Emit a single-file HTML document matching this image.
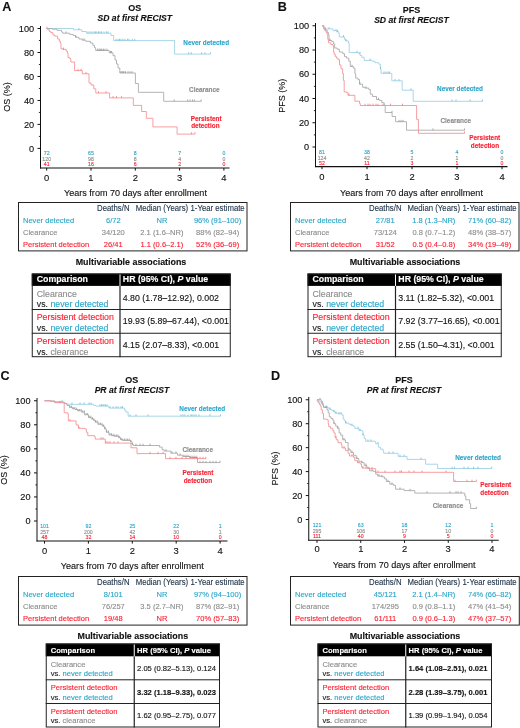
<!DOCTYPE html>
<html><head><meta charset="utf-8"><style>
html,body{margin:0;padding:0;background:#fff;}
svg{display:block;font-family:"Liberation Sans", sans-serif;will-change:transform;}
</style></head><body>
<svg width="520" height="728" viewBox="0 0 520 728">
<g id="pA">
<text x="2.30" y="10.90" font-size="12.6" fill="#111" font-weight="bold" stroke="#111" stroke-width="0.12" transform="translate(0,10.90) scale(1,1.06) translate(0,-10.90)">A</text>
<text x="134.80" y="10.60" font-size="9" fill="#111" text-anchor="middle" font-weight="bold" stroke="#111" stroke-width="0.12" transform="translate(0,10.60) scale(1,1.06) translate(0,-10.60)">OS</text>
<text x="134.80" y="20.80" font-size="8.6" fill="#111" text-anchor="middle" font-weight="bold" font-style="italic" stroke="#111" stroke-width="0.12" transform="translate(0,20.80) scale(1,1.06) translate(0,-20.80)">SD at first RECIST</text>
<line x1="40.50" y1="26.00" x2="40.50" y2="168.50" stroke="#111" stroke-width="1"/>
<line x1="37.50" y1="148.40" x2="40.50" y2="148.40" stroke="#111" stroke-width="1"/>
<text x="34.20" y="151.60" font-size="9.2" fill="#111" text-anchor="end" stroke="#111" stroke-width="0.12" transform="translate(0,151.60) scale(1,1.06) translate(0,-151.60)">0</text>
<line x1="38.90" y1="136.41" x2="40.50" y2="136.41" stroke="#111" stroke-width="0.9"/>
<line x1="37.50" y1="124.42" x2="40.50" y2="124.42" stroke="#111" stroke-width="1"/>
<text x="34.20" y="127.62" font-size="9.2" fill="#111" text-anchor="end" stroke="#111" stroke-width="0.12" transform="translate(0,127.62) scale(1,1.06) translate(0,-127.62)">20</text>
<line x1="38.90" y1="112.43" x2="40.50" y2="112.43" stroke="#111" stroke-width="0.9"/>
<line x1="37.50" y1="100.44" x2="40.50" y2="100.44" stroke="#111" stroke-width="1"/>
<text x="34.20" y="103.64" font-size="9.2" fill="#111" text-anchor="end" stroke="#111" stroke-width="0.12" transform="translate(0,103.64) scale(1,1.06) translate(0,-103.64)">40</text>
<line x1="38.90" y1="88.45" x2="40.50" y2="88.45" stroke="#111" stroke-width="0.9"/>
<line x1="37.50" y1="76.46" x2="40.50" y2="76.46" stroke="#111" stroke-width="1"/>
<text x="34.20" y="79.66" font-size="9.2" fill="#111" text-anchor="end" stroke="#111" stroke-width="0.12" transform="translate(0,79.66) scale(1,1.06) translate(0,-79.66)">60</text>
<line x1="38.90" y1="64.47" x2="40.50" y2="64.47" stroke="#111" stroke-width="0.9"/>
<line x1="37.50" y1="52.48" x2="40.50" y2="52.48" stroke="#111" stroke-width="1"/>
<text x="34.20" y="55.68" font-size="9.2" fill="#111" text-anchor="end" stroke="#111" stroke-width="0.12" transform="translate(0,55.68) scale(1,1.06) translate(0,-55.68)">80</text>
<line x1="38.90" y1="40.49" x2="40.50" y2="40.49" stroke="#111" stroke-width="0.9"/>
<line x1="37.50" y1="28.50" x2="40.50" y2="28.50" stroke="#111" stroke-width="1"/>
<text x="34.20" y="31.70" font-size="9.2" fill="#111" text-anchor="end" stroke="#111" stroke-width="0.12" transform="translate(0,31.70) scale(1,1.06) translate(0,-31.70)">100</text>
<text x="0.00" y="0.00" font-size="9" fill="#111" text-anchor="middle" stroke="#111" stroke-width="0.12" transform="translate(9.90,97.00) rotate(-90) scale(1,1.06)">OS (%)</text>
<line x1="40.00" y1="168.00" x2="229.50" y2="168.00" stroke="#111" stroke-width="1.2"/>
<line x1="46.70" y1="168.00" x2="46.70" y2="170.60" stroke="#111" stroke-width="1"/>
<text x="46.70" y="180.60" font-size="9.4" fill="#111" text-anchor="middle" stroke="#111" stroke-width="0.12" transform="translate(0,180.60) scale(1,1.06) translate(0,-180.60)">0</text>
<text x="46.70" y="154.85" font-size="5.2" fill="#2aa5c9" text-anchor="middle" stroke="#2aa5c9" stroke-width="0.12" transform="translate(0,154.85) scale(1,1.06) translate(0,-154.85)">72</text>
<text x="46.70" y="160.65" font-size="5.2" fill="#8c8c8c" text-anchor="middle" stroke="#8c8c8c" stroke-width="0.12" transform="translate(0,160.65) scale(1,1.06) translate(0,-160.65)">120</text>
<text x="46.70" y="166.25" font-size="5.2" fill="#fa2030" text-anchor="middle" stroke="#fa2030" stroke-width="0.12" transform="translate(0,166.25) scale(1,1.06) translate(0,-166.25)">41</text>
<line x1="91.00" y1="168.00" x2="91.00" y2="170.60" stroke="#111" stroke-width="1"/>
<text x="91.00" y="180.60" font-size="9.4" fill="#111" text-anchor="middle" stroke="#111" stroke-width="0.12" transform="translate(0,180.60) scale(1,1.06) translate(0,-180.60)">1</text>
<text x="91.00" y="154.85" font-size="5.2" fill="#2aa5c9" text-anchor="middle" stroke="#2aa5c9" stroke-width="0.12" transform="translate(0,154.85) scale(1,1.06) translate(0,-154.85)">65</text>
<text x="91.00" y="160.65" font-size="5.2" fill="#8c8c8c" text-anchor="middle" stroke="#8c8c8c" stroke-width="0.12" transform="translate(0,160.65) scale(1,1.06) translate(0,-160.65)">98</text>
<text x="91.00" y="166.25" font-size="5.2" fill="#fa2030" text-anchor="middle" stroke="#fa2030" stroke-width="0.12" transform="translate(0,166.25) scale(1,1.06) translate(0,-166.25)">16</text>
<line x1="135.30" y1="168.00" x2="135.30" y2="170.60" stroke="#111" stroke-width="1"/>
<text x="135.30" y="180.60" font-size="9.4" fill="#111" text-anchor="middle" stroke="#111" stroke-width="0.12" transform="translate(0,180.60) scale(1,1.06) translate(0,-180.60)">2</text>
<text x="135.30" y="154.85" font-size="5.2" fill="#2aa5c9" text-anchor="middle" stroke="#2aa5c9" stroke-width="0.12" transform="translate(0,154.85) scale(1,1.06) translate(0,-154.85)">8</text>
<text x="135.30" y="160.65" font-size="5.2" fill="#8c8c8c" text-anchor="middle" stroke="#8c8c8c" stroke-width="0.12" transform="translate(0,160.65) scale(1,1.06) translate(0,-160.65)">8</text>
<text x="135.30" y="166.25" font-size="5.2" fill="#fa2030" text-anchor="middle" stroke="#fa2030" stroke-width="0.12" transform="translate(0,166.25) scale(1,1.06) translate(0,-166.25)">6</text>
<line x1="179.60" y1="168.00" x2="179.60" y2="170.60" stroke="#111" stroke-width="1"/>
<text x="179.60" y="180.60" font-size="9.4" fill="#111" text-anchor="middle" stroke="#111" stroke-width="0.12" transform="translate(0,180.60) scale(1,1.06) translate(0,-180.60)">3</text>
<text x="179.60" y="154.85" font-size="5.2" fill="#2aa5c9" text-anchor="middle" stroke="#2aa5c9" stroke-width="0.12" transform="translate(0,154.85) scale(1,1.06) translate(0,-154.85)">7</text>
<text x="179.60" y="160.65" font-size="5.2" fill="#8c8c8c" text-anchor="middle" stroke="#8c8c8c" stroke-width="0.12" transform="translate(0,160.65) scale(1,1.06) translate(0,-160.65)">4</text>
<text x="179.60" y="166.25" font-size="5.2" fill="#fa2030" text-anchor="middle" stroke="#fa2030" stroke-width="0.12" transform="translate(0,166.25) scale(1,1.06) translate(0,-166.25)">2</text>
<line x1="223.90" y1="168.00" x2="223.90" y2="170.60" stroke="#111" stroke-width="1"/>
<text x="223.90" y="180.60" font-size="9.4" fill="#111" text-anchor="middle" stroke="#111" stroke-width="0.12" transform="translate(0,180.60) scale(1,1.06) translate(0,-180.60)">4</text>
<text x="223.90" y="154.85" font-size="5.2" fill="#2aa5c9" text-anchor="middle" stroke="#2aa5c9" stroke-width="0.12" transform="translate(0,154.85) scale(1,1.06) translate(0,-154.85)">0</text>
<text x="223.90" y="160.65" font-size="5.2" fill="#8c8c8c" text-anchor="middle" stroke="#8c8c8c" stroke-width="0.12" transform="translate(0,160.65) scale(1,1.06) translate(0,-160.65)">0</text>
<text x="223.90" y="166.25" font-size="5.2" fill="#fa2030" text-anchor="middle" stroke="#fa2030" stroke-width="0.12" transform="translate(0,166.25) scale(1,1.06) translate(0,-166.25)">0</text>
<text x="135.50" y="195.80" font-size="9.05" fill="#111" text-anchor="middle" stroke="#111" stroke-width="0.12" transform="translate(0,195.80) scale(1,1.06) translate(0,-195.80)">Years from 70 days after enrollment</text>
</g>
<g id="pB">
<text x="277.80" y="11.00" font-size="12.6" fill="#111" font-weight="bold" stroke="#111" stroke-width="0.12" transform="translate(0,11.00) scale(1,1.06) translate(0,-11.00)">B</text>
<text x="411.40" y="13.10" font-size="9" fill="#111" text-anchor="middle" font-weight="bold" stroke="#111" stroke-width="0.12" transform="translate(0,13.10) scale(1,1.06) translate(0,-13.10)">PFS</text>
<text x="411.40" y="23.40" font-size="8.6" fill="#111" text-anchor="middle" font-weight="bold" font-style="italic" stroke="#111" stroke-width="0.12" transform="translate(0,23.40) scale(1,1.06) translate(0,-23.40)">SD at first RECIST</text>
<line x1="315.50" y1="23.00" x2="315.50" y2="167.10" stroke="#111" stroke-width="1"/>
<line x1="312.50" y1="147.00" x2="315.50" y2="147.00" stroke="#111" stroke-width="1"/>
<text x="309.20" y="150.20" font-size="9.2" fill="#111" text-anchor="end" stroke="#111" stroke-width="0.12" transform="translate(0,150.20) scale(1,1.06) translate(0,-150.20)">0</text>
<line x1="313.90" y1="134.88" x2="315.50" y2="134.88" stroke="#111" stroke-width="0.9"/>
<line x1="312.50" y1="122.75" x2="315.50" y2="122.75" stroke="#111" stroke-width="1"/>
<text x="309.20" y="125.95" font-size="9.2" fill="#111" text-anchor="end" stroke="#111" stroke-width="0.12" transform="translate(0,125.95) scale(1,1.06) translate(0,-125.95)">20</text>
<line x1="313.90" y1="110.62" x2="315.50" y2="110.62" stroke="#111" stroke-width="0.9"/>
<line x1="312.50" y1="98.50" x2="315.50" y2="98.50" stroke="#111" stroke-width="1"/>
<text x="309.20" y="101.70" font-size="9.2" fill="#111" text-anchor="end" stroke="#111" stroke-width="0.12" transform="translate(0,101.70) scale(1,1.06) translate(0,-101.70)">40</text>
<line x1="313.90" y1="86.38" x2="315.50" y2="86.38" stroke="#111" stroke-width="0.9"/>
<line x1="312.50" y1="74.25" x2="315.50" y2="74.25" stroke="#111" stroke-width="1"/>
<text x="309.20" y="77.45" font-size="9.2" fill="#111" text-anchor="end" stroke="#111" stroke-width="0.12" transform="translate(0,77.45) scale(1,1.06) translate(0,-77.45)">60</text>
<line x1="313.90" y1="62.12" x2="315.50" y2="62.12" stroke="#111" stroke-width="0.9"/>
<line x1="312.50" y1="50.00" x2="315.50" y2="50.00" stroke="#111" stroke-width="1"/>
<text x="309.20" y="53.20" font-size="9.2" fill="#111" text-anchor="end" stroke="#111" stroke-width="0.12" transform="translate(0,53.20) scale(1,1.06) translate(0,-53.20)">80</text>
<line x1="313.90" y1="37.88" x2="315.50" y2="37.88" stroke="#111" stroke-width="0.9"/>
<line x1="312.50" y1="25.75" x2="315.50" y2="25.75" stroke="#111" stroke-width="1"/>
<text x="309.20" y="28.95" font-size="9.2" fill="#111" text-anchor="end" stroke="#111" stroke-width="0.12" transform="translate(0,28.95) scale(1,1.06) translate(0,-28.95)">100</text>
<text x="0.00" y="0.00" font-size="9" fill="#111" text-anchor="middle" stroke="#111" stroke-width="0.12" transform="translate(284.80,95.70) rotate(-90) scale(1,1.06)">PFS (%)</text>
<line x1="315.00" y1="166.60" x2="507.50" y2="166.60" stroke="#111" stroke-width="1.2"/>
<line x1="322.00" y1="166.60" x2="322.00" y2="169.20" stroke="#111" stroke-width="1"/>
<text x="322.00" y="180.50" font-size="9.4" fill="#111" text-anchor="middle" stroke="#111" stroke-width="0.12" transform="translate(0,180.50) scale(1,1.06) translate(0,-180.50)">0</text>
<text x="322.00" y="153.85" font-size="5.2" fill="#2aa5c9" text-anchor="middle" stroke="#2aa5c9" stroke-width="0.12" transform="translate(0,153.85) scale(1,1.06) translate(0,-153.85)">81</text>
<text x="322.00" y="159.75" font-size="5.2" fill="#8c8c8c" text-anchor="middle" stroke="#8c8c8c" stroke-width="0.12" transform="translate(0,159.75) scale(1,1.06) translate(0,-159.75)">124</text>
<text x="322.00" y="165.25" font-size="5.2" fill="#fa2030" text-anchor="middle" stroke="#fa2030" stroke-width="0.12" transform="translate(0,165.25) scale(1,1.06) translate(0,-165.25)">52</text>
<line x1="367.00" y1="166.60" x2="367.00" y2="169.20" stroke="#111" stroke-width="1"/>
<text x="367.00" y="180.50" font-size="9.4" fill="#111" text-anchor="middle" stroke="#111" stroke-width="0.12" transform="translate(0,180.50) scale(1,1.06) translate(0,-180.50)">1</text>
<text x="367.00" y="153.85" font-size="5.2" fill="#2aa5c9" text-anchor="middle" stroke="#2aa5c9" stroke-width="0.12" transform="translate(0,153.85) scale(1,1.06) translate(0,-153.85)">38</text>
<text x="367.00" y="159.75" font-size="5.2" fill="#8c8c8c" text-anchor="middle" stroke="#8c8c8c" stroke-width="0.12" transform="translate(0,159.75) scale(1,1.06) translate(0,-159.75)">42</text>
<text x="367.00" y="165.25" font-size="5.2" fill="#fa2030" text-anchor="middle" stroke="#fa2030" stroke-width="0.12" transform="translate(0,165.25) scale(1,1.06) translate(0,-165.25)">11</text>
<line x1="412.00" y1="166.60" x2="412.00" y2="169.20" stroke="#111" stroke-width="1"/>
<text x="412.00" y="180.50" font-size="9.4" fill="#111" text-anchor="middle" stroke="#111" stroke-width="0.12" transform="translate(0,180.50) scale(1,1.06) translate(0,-180.50)">2</text>
<text x="412.00" y="153.85" font-size="5.2" fill="#2aa5c9" text-anchor="middle" stroke="#2aa5c9" stroke-width="0.12" transform="translate(0,153.85) scale(1,1.06) translate(0,-153.85)">5</text>
<text x="412.00" y="159.75" font-size="5.2" fill="#8c8c8c" text-anchor="middle" stroke="#8c8c8c" stroke-width="0.12" transform="translate(0,159.75) scale(1,1.06) translate(0,-159.75)">2</text>
<text x="412.00" y="165.25" font-size="5.2" fill="#fa2030" text-anchor="middle" stroke="#fa2030" stroke-width="0.12" transform="translate(0,165.25) scale(1,1.06) translate(0,-165.25)">3</text>
<line x1="457.00" y1="166.60" x2="457.00" y2="169.20" stroke="#111" stroke-width="1"/>
<text x="457.00" y="180.50" font-size="9.4" fill="#111" text-anchor="middle" stroke="#111" stroke-width="0.12" transform="translate(0,180.50) scale(1,1.06) translate(0,-180.50)">3</text>
<text x="457.00" y="153.85" font-size="5.2" fill="#2aa5c9" text-anchor="middle" stroke="#2aa5c9" stroke-width="0.12" transform="translate(0,153.85) scale(1,1.06) translate(0,-153.85)">4</text>
<text x="457.00" y="159.75" font-size="5.2" fill="#8c8c8c" text-anchor="middle" stroke="#8c8c8c" stroke-width="0.12" transform="translate(0,159.75) scale(1,1.06) translate(0,-159.75)">1</text>
<text x="457.00" y="165.25" font-size="5.2" fill="#fa2030" text-anchor="middle" stroke="#fa2030" stroke-width="0.12" transform="translate(0,165.25) scale(1,1.06) translate(0,-165.25)">1</text>
<line x1="502.00" y1="166.60" x2="502.00" y2="169.20" stroke="#111" stroke-width="1"/>
<text x="502.00" y="180.50" font-size="9.4" fill="#111" text-anchor="middle" stroke="#111" stroke-width="0.12" transform="translate(0,180.50) scale(1,1.06) translate(0,-180.50)">4</text>
<text x="502.00" y="153.85" font-size="5.2" fill="#2aa5c9" text-anchor="middle" stroke="#2aa5c9" stroke-width="0.12" transform="translate(0,153.85) scale(1,1.06) translate(0,-153.85)">0</text>
<text x="502.00" y="159.75" font-size="5.2" fill="#8c8c8c" text-anchor="middle" stroke="#8c8c8c" stroke-width="0.12" transform="translate(0,159.75) scale(1,1.06) translate(0,-159.75)">0</text>
<text x="502.00" y="165.25" font-size="5.2" fill="#fa2030" text-anchor="middle" stroke="#fa2030" stroke-width="0.12" transform="translate(0,165.25) scale(1,1.06) translate(0,-165.25)">0</text>
<text x="411.50" y="195.80" font-size="9.05" fill="#111" text-anchor="middle" stroke="#111" stroke-width="0.12" transform="translate(0,195.80) scale(1,1.06) translate(0,-195.80)">Years from 70 days after enrollment</text>
</g>
<g id="pC">
<text x="0.40" y="380.50" font-size="12.6" fill="#111" font-weight="bold" stroke="#111" stroke-width="0.12" transform="translate(0,380.50) scale(1,1.06) translate(0,-380.50)">C</text>
<text x="131.70" y="382.75" font-size="9" fill="#111" text-anchor="middle" font-weight="bold" stroke="#111" stroke-width="0.12" transform="translate(0,382.75) scale(1,1.06) translate(0,-382.75)">OS</text>
<text x="131.90" y="393.40" font-size="8.6" fill="#111" text-anchor="middle" font-weight="bold" font-style="italic" stroke="#111" stroke-width="0.12" transform="translate(0,393.40) scale(1,1.06) translate(0,-393.40)">PR at first RECIST</text>
<line x1="37.00" y1="398.00" x2="37.00" y2="541.50" stroke="#111" stroke-width="1"/>
<line x1="34.00" y1="521.00" x2="37.00" y2="521.00" stroke="#111" stroke-width="1"/>
<text x="30.60" y="524.20" font-size="9.2" fill="#111" text-anchor="end" stroke="#111" stroke-width="0.12" transform="translate(0,524.20) scale(1,1.06) translate(0,-524.20)">0</text>
<line x1="35.40" y1="508.98" x2="37.00" y2="508.98" stroke="#111" stroke-width="0.9"/>
<line x1="34.00" y1="496.95" x2="37.00" y2="496.95" stroke="#111" stroke-width="1"/>
<text x="30.60" y="500.15" font-size="9.2" fill="#111" text-anchor="end" stroke="#111" stroke-width="0.12" transform="translate(0,500.15) scale(1,1.06) translate(0,-500.15)">20</text>
<line x1="35.40" y1="484.93" x2="37.00" y2="484.93" stroke="#111" stroke-width="0.9"/>
<line x1="34.00" y1="472.90" x2="37.00" y2="472.90" stroke="#111" stroke-width="1"/>
<text x="30.60" y="476.10" font-size="9.2" fill="#111" text-anchor="end" stroke="#111" stroke-width="0.12" transform="translate(0,476.10) scale(1,1.06) translate(0,-476.10)">40</text>
<line x1="35.40" y1="460.88" x2="37.00" y2="460.88" stroke="#111" stroke-width="0.9"/>
<line x1="34.00" y1="448.85" x2="37.00" y2="448.85" stroke="#111" stroke-width="1"/>
<text x="30.60" y="452.05" font-size="9.2" fill="#111" text-anchor="end" stroke="#111" stroke-width="0.12" transform="translate(0,452.05) scale(1,1.06) translate(0,-452.05)">60</text>
<line x1="35.40" y1="436.82" x2="37.00" y2="436.82" stroke="#111" stroke-width="0.9"/>
<line x1="34.00" y1="424.80" x2="37.00" y2="424.80" stroke="#111" stroke-width="1"/>
<text x="30.60" y="428.00" font-size="9.2" fill="#111" text-anchor="end" stroke="#111" stroke-width="0.12" transform="translate(0,428.00) scale(1,1.06) translate(0,-428.00)">80</text>
<line x1="35.40" y1="412.77" x2="37.00" y2="412.77" stroke="#111" stroke-width="0.9"/>
<line x1="34.00" y1="400.75" x2="37.00" y2="400.75" stroke="#111" stroke-width="1"/>
<text x="30.60" y="403.95" font-size="9.2" fill="#111" text-anchor="end" stroke="#111" stroke-width="0.12" transform="translate(0,403.95) scale(1,1.06) translate(0,-403.95)">100</text>
<text x="0.00" y="0.00" font-size="9" fill="#111" text-anchor="middle" stroke="#111" stroke-width="0.12" transform="translate(7.40,470.00) rotate(-90) scale(1,1.06)">OS (%)</text>
<line x1="36.50" y1="541.00" x2="227.50" y2="541.00" stroke="#111" stroke-width="1.2"/>
<line x1="44.50" y1="541.00" x2="44.50" y2="543.60" stroke="#111" stroke-width="1"/>
<text x="44.50" y="553.60" font-size="9.4" fill="#111" text-anchor="middle" stroke="#111" stroke-width="0.12" transform="translate(0,553.60) scale(1,1.06) translate(0,-553.60)">0</text>
<text x="44.50" y="528.35" font-size="5.2" fill="#2aa5c9" text-anchor="middle" stroke="#2aa5c9" stroke-width="0.12" transform="translate(0,528.35) scale(1,1.06) translate(0,-528.35)">101</text>
<text x="44.50" y="533.60" font-size="5.2" fill="#8c8c8c" text-anchor="middle" stroke="#8c8c8c" stroke-width="0.12" transform="translate(0,533.60) scale(1,1.06) translate(0,-533.60)">257</text>
<text x="44.50" y="538.85" font-size="5.2" fill="#fa2030" text-anchor="middle" stroke="#fa2030" stroke-width="0.12" transform="translate(0,538.85) scale(1,1.06) translate(0,-538.85)">48</text>
<line x1="88.40" y1="541.00" x2="88.40" y2="543.60" stroke="#111" stroke-width="1"/>
<text x="88.40" y="553.60" font-size="9.4" fill="#111" text-anchor="middle" stroke="#111" stroke-width="0.12" transform="translate(0,553.60) scale(1,1.06) translate(0,-553.60)">1</text>
<text x="88.40" y="528.35" font-size="5.2" fill="#2aa5c9" text-anchor="middle" stroke="#2aa5c9" stroke-width="0.12" transform="translate(0,528.35) scale(1,1.06) translate(0,-528.35)">92</text>
<text x="88.40" y="533.60" font-size="5.2" fill="#8c8c8c" text-anchor="middle" stroke="#8c8c8c" stroke-width="0.12" transform="translate(0,533.60) scale(1,1.06) translate(0,-533.60)">200</text>
<text x="88.40" y="538.85" font-size="5.2" fill="#fa2030" text-anchor="middle" stroke="#fa2030" stroke-width="0.12" transform="translate(0,538.85) scale(1,1.06) translate(0,-538.85)">32</text>
<line x1="132.30" y1="541.00" x2="132.30" y2="543.60" stroke="#111" stroke-width="1"/>
<text x="132.30" y="553.60" font-size="9.4" fill="#111" text-anchor="middle" stroke="#111" stroke-width="0.12" transform="translate(0,553.60) scale(1,1.06) translate(0,-553.60)">2</text>
<text x="132.30" y="528.35" font-size="5.2" fill="#2aa5c9" text-anchor="middle" stroke="#2aa5c9" stroke-width="0.12" transform="translate(0,528.35) scale(1,1.06) translate(0,-528.35)">25</text>
<text x="132.30" y="533.60" font-size="5.2" fill="#8c8c8c" text-anchor="middle" stroke="#8c8c8c" stroke-width="0.12" transform="translate(0,533.60) scale(1,1.06) translate(0,-533.60)">42</text>
<text x="132.30" y="538.85" font-size="5.2" fill="#fa2030" text-anchor="middle" stroke="#fa2030" stroke-width="0.12" transform="translate(0,538.85) scale(1,1.06) translate(0,-538.85)">14</text>
<line x1="176.20" y1="541.00" x2="176.20" y2="543.60" stroke="#111" stroke-width="1"/>
<text x="176.20" y="553.60" font-size="9.4" fill="#111" text-anchor="middle" stroke="#111" stroke-width="0.12" transform="translate(0,553.60) scale(1,1.06) translate(0,-553.60)">3</text>
<text x="176.20" y="528.35" font-size="5.2" fill="#2aa5c9" text-anchor="middle" stroke="#2aa5c9" stroke-width="0.12" transform="translate(0,528.35) scale(1,1.06) translate(0,-528.35)">22</text>
<text x="176.20" y="533.60" font-size="5.2" fill="#8c8c8c" text-anchor="middle" stroke="#8c8c8c" stroke-width="0.12" transform="translate(0,533.60) scale(1,1.06) translate(0,-533.60)">30</text>
<text x="176.20" y="538.85" font-size="5.2" fill="#fa2030" text-anchor="middle" stroke="#fa2030" stroke-width="0.12" transform="translate(0,538.85) scale(1,1.06) translate(0,-538.85)">10</text>
<line x1="220.10" y1="541.00" x2="220.10" y2="543.60" stroke="#111" stroke-width="1"/>
<text x="220.10" y="553.60" font-size="9.4" fill="#111" text-anchor="middle" stroke="#111" stroke-width="0.12" transform="translate(0,553.60) scale(1,1.06) translate(0,-553.60)">4</text>
<text x="220.10" y="528.35" font-size="5.2" fill="#2aa5c9" text-anchor="middle" stroke="#2aa5c9" stroke-width="0.12" transform="translate(0,528.35) scale(1,1.06) translate(0,-528.35)">1</text>
<text x="220.10" y="533.60" font-size="5.2" fill="#8c8c8c" text-anchor="middle" stroke="#8c8c8c" stroke-width="0.12" transform="translate(0,533.60) scale(1,1.06) translate(0,-533.60)">1</text>
<text x="220.10" y="538.85" font-size="5.2" fill="#fa2030" text-anchor="middle" stroke="#fa2030" stroke-width="0.12" transform="translate(0,538.85) scale(1,1.06) translate(0,-538.85)">0</text>
<text x="132.30" y="568.70" font-size="9.05" fill="#111" text-anchor="middle" stroke="#111" stroke-width="0.12" transform="translate(0,568.70) scale(1,1.06) translate(0,-568.70)">Years from 70 days after enrollment</text>
</g>
<g id="pD">
<text x="270.90" y="380.40" font-size="12.6" fill="#111" font-weight="bold" stroke="#111" stroke-width="0.12" transform="translate(0,380.40) scale(1,1.06) translate(0,-380.40)">D</text>
<text x="404.00" y="383.00" font-size="9" fill="#111" text-anchor="middle" font-weight="bold" stroke="#111" stroke-width="0.12" transform="translate(0,383.00) scale(1,1.06) translate(0,-383.00)">PFS</text>
<text x="404.00" y="393.40" font-size="8.6" fill="#111" text-anchor="middle" font-weight="bold" font-style="italic" stroke="#111" stroke-width="0.12" transform="translate(0,393.40) scale(1,1.06) translate(0,-393.40)">PR at first RECIST</text>
<line x1="308.75" y1="397.00" x2="308.75" y2="540.75" stroke="#111" stroke-width="1"/>
<line x1="305.75" y1="519.50" x2="308.75" y2="519.50" stroke="#111" stroke-width="1"/>
<text x="302.50" y="522.70" font-size="9.2" fill="#111" text-anchor="end" stroke="#111" stroke-width="0.12" transform="translate(0,522.70) scale(1,1.06) translate(0,-522.70)">0</text>
<line x1="307.15" y1="507.52" x2="308.75" y2="507.52" stroke="#111" stroke-width="0.9"/>
<line x1="305.75" y1="495.55" x2="308.75" y2="495.55" stroke="#111" stroke-width="1"/>
<text x="302.50" y="498.75" font-size="9.2" fill="#111" text-anchor="end" stroke="#111" stroke-width="0.12" transform="translate(0,498.75) scale(1,1.06) translate(0,-498.75)">20</text>
<line x1="307.15" y1="483.57" x2="308.75" y2="483.57" stroke="#111" stroke-width="0.9"/>
<line x1="305.75" y1="471.60" x2="308.75" y2="471.60" stroke="#111" stroke-width="1"/>
<text x="302.50" y="474.80" font-size="9.2" fill="#111" text-anchor="end" stroke="#111" stroke-width="0.12" transform="translate(0,474.80) scale(1,1.06) translate(0,-474.80)">40</text>
<line x1="307.15" y1="459.62" x2="308.75" y2="459.62" stroke="#111" stroke-width="0.9"/>
<line x1="305.75" y1="447.65" x2="308.75" y2="447.65" stroke="#111" stroke-width="1"/>
<text x="302.50" y="450.85" font-size="9.2" fill="#111" text-anchor="end" stroke="#111" stroke-width="0.12" transform="translate(0,450.85) scale(1,1.06) translate(0,-450.85)">60</text>
<line x1="307.15" y1="435.68" x2="308.75" y2="435.68" stroke="#111" stroke-width="0.9"/>
<line x1="305.75" y1="423.70" x2="308.75" y2="423.70" stroke="#111" stroke-width="1"/>
<text x="302.50" y="426.90" font-size="9.2" fill="#111" text-anchor="end" stroke="#111" stroke-width="0.12" transform="translate(0,426.90) scale(1,1.06) translate(0,-426.90)">80</text>
<line x1="307.15" y1="411.73" x2="308.75" y2="411.73" stroke="#111" stroke-width="0.9"/>
<line x1="305.75" y1="399.75" x2="308.75" y2="399.75" stroke="#111" stroke-width="1"/>
<text x="302.50" y="402.95" font-size="9.2" fill="#111" text-anchor="end" stroke="#111" stroke-width="0.12" transform="translate(0,402.95) scale(1,1.06) translate(0,-402.95)">100</text>
<text x="0.00" y="0.00" font-size="9" fill="#111" text-anchor="middle" stroke="#111" stroke-width="0.12" transform="translate(277.60,468.60) rotate(-90) scale(1,1.06)">PFS (%)</text>
<line x1="308.25" y1="540.25" x2="498.75" y2="540.25" stroke="#111" stroke-width="1.2"/>
<line x1="317.00" y1="540.25" x2="317.00" y2="542.85" stroke="#111" stroke-width="1"/>
<text x="317.00" y="552.50" font-size="9.4" fill="#111" text-anchor="middle" stroke="#111" stroke-width="0.12" transform="translate(0,552.50) scale(1,1.06) translate(0,-552.50)">0</text>
<text x="317.00" y="527.10" font-size="5.2" fill="#2aa5c9" text-anchor="middle" stroke="#2aa5c9" stroke-width="0.12" transform="translate(0,527.10) scale(1,1.06) translate(0,-527.10)">121</text>
<text x="317.00" y="532.60" font-size="5.2" fill="#8c8c8c" text-anchor="middle" stroke="#8c8c8c" stroke-width="0.12" transform="translate(0,532.60) scale(1,1.06) translate(0,-532.60)">295</text>
<text x="317.00" y="538.10" font-size="5.2" fill="#fa2030" text-anchor="middle" stroke="#fa2030" stroke-width="0.12" transform="translate(0,538.10) scale(1,1.06) translate(0,-538.10)">111</text>
<line x1="360.75" y1="540.25" x2="360.75" y2="542.85" stroke="#111" stroke-width="1"/>
<text x="360.75" y="552.50" font-size="9.4" fill="#111" text-anchor="middle" stroke="#111" stroke-width="0.12" transform="translate(0,552.50) scale(1,1.06) translate(0,-552.50)">1</text>
<text x="360.75" y="527.10" font-size="5.2" fill="#2aa5c9" text-anchor="middle" stroke="#2aa5c9" stroke-width="0.12" transform="translate(0,527.10) scale(1,1.06) translate(0,-527.10)">63</text>
<text x="360.75" y="532.60" font-size="5.2" fill="#8c8c8c" text-anchor="middle" stroke="#8c8c8c" stroke-width="0.12" transform="translate(0,532.60) scale(1,1.06) translate(0,-532.60)">106</text>
<text x="360.75" y="538.10" font-size="5.2" fill="#fa2030" text-anchor="middle" stroke="#fa2030" stroke-width="0.12" transform="translate(0,538.10) scale(1,1.06) translate(0,-538.10)">40</text>
<line x1="404.50" y1="540.25" x2="404.50" y2="542.85" stroke="#111" stroke-width="1"/>
<text x="404.50" y="552.50" font-size="9.4" fill="#111" text-anchor="middle" stroke="#111" stroke-width="0.12" transform="translate(0,552.50) scale(1,1.06) translate(0,-552.50)">2</text>
<text x="404.50" y="527.10" font-size="5.2" fill="#2aa5c9" text-anchor="middle" stroke="#2aa5c9" stroke-width="0.12" transform="translate(0,527.10) scale(1,1.06) translate(0,-527.10)">18</text>
<text x="404.50" y="532.60" font-size="5.2" fill="#8c8c8c" text-anchor="middle" stroke="#8c8c8c" stroke-width="0.12" transform="translate(0,532.60) scale(1,1.06) translate(0,-532.60)">17</text>
<text x="404.50" y="538.10" font-size="5.2" fill="#fa2030" text-anchor="middle" stroke="#fa2030" stroke-width="0.12" transform="translate(0,538.10) scale(1,1.06) translate(0,-538.10)">9</text>
<line x1="448.25" y1="540.25" x2="448.25" y2="542.85" stroke="#111" stroke-width="1"/>
<text x="448.25" y="552.50" font-size="9.4" fill="#111" text-anchor="middle" stroke="#111" stroke-width="0.12" transform="translate(0,552.50) scale(1,1.06) translate(0,-552.50)">3</text>
<text x="448.25" y="527.10" font-size="5.2" fill="#2aa5c9" text-anchor="middle" stroke="#2aa5c9" stroke-width="0.12" transform="translate(0,527.10) scale(1,1.06) translate(0,-527.10)">12</text>
<text x="448.25" y="532.60" font-size="5.2" fill="#8c8c8c" text-anchor="middle" stroke="#8c8c8c" stroke-width="0.12" transform="translate(0,532.60) scale(1,1.06) translate(0,-532.60)">10</text>
<text x="448.25" y="538.10" font-size="5.2" fill="#fa2030" text-anchor="middle" stroke="#fa2030" stroke-width="0.12" transform="translate(0,538.10) scale(1,1.06) translate(0,-538.10)">5</text>
<line x1="492.00" y1="540.25" x2="492.00" y2="542.85" stroke="#111" stroke-width="1"/>
<text x="492.00" y="552.50" font-size="9.4" fill="#111" text-anchor="middle" stroke="#111" stroke-width="0.12" transform="translate(0,552.50) scale(1,1.06) translate(0,-552.50)">4</text>
<text x="492.00" y="527.10" font-size="5.2" fill="#2aa5c9" text-anchor="middle" stroke="#2aa5c9" stroke-width="0.12" transform="translate(0,527.10) scale(1,1.06) translate(0,-527.10)">1</text>
<text x="492.00" y="532.60" font-size="5.2" fill="#8c8c8c" text-anchor="middle" stroke="#8c8c8c" stroke-width="0.12" transform="translate(0,532.60) scale(1,1.06) translate(0,-532.60)">0</text>
<text x="492.00" y="538.10" font-size="5.2" fill="#fa2030" text-anchor="middle" stroke="#fa2030" stroke-width="0.12" transform="translate(0,538.10) scale(1,1.06) translate(0,-538.10)">0</text>
<text x="404.20" y="567.90" font-size="9.05" fill="#111" text-anchor="middle" stroke="#111" stroke-width="0.12" transform="translate(0,567.90) scale(1,1.06) translate(0,-567.90)">Years from 70 days after enrollment</text>
</g>
<path d="M46.70,28.50H73.40V29.80H81.80V31.50H86.40V33.20H111.00V35.50H113.70V40.60H174.60V54.10H210.40" fill="none" stroke="#9fd3e5" stroke-width="0.9"/>
<path d="M78.90,29.80v-1.8M88.00,33.20v-1.8M90.00,33.20v-1.8M92.00,33.20v-1.8M94.00,33.20v-1.8M95.50,33.20v-1.8M97.00,33.20v-1.8M98.50,33.20v-1.8M100.00,33.20v-1.8M101.50,33.20v-1.8M104.00,33.20v-1.8M106.50,33.20v-1.8M108.00,33.20v-1.8M116.00,40.60v-1.8M118.00,40.60v-1.8M119.50,40.60v-1.8M121.00,40.60v-1.8M123.00,40.60v-1.8M125.00,40.60v-1.8M127.50,40.60v-1.8M129.00,40.60v-1.8M132.30,40.60v-1.8M134.80,40.60v-1.8M188.70,54.10v-1.8M191.20,54.10v-1.8M201.50,54.10v-1.8M205.00,54.10v-1.8M210.40,54.10v-1.8" fill="none" stroke="#5ab6d4" stroke-width="0.7"/>
<path d="M46.70,28.50H52.40V29.20H57.00V30.30H61.60V32.10H62.80V33.20H69.70V34.40H73.20V35.50H75.50V37.30H78.90V39.00H82.40V40.20H85.80V41.30H90.50V43.00H92.80V45.30H94.50V47.70H95.70V50.50H109.20V52.80H113.00V55.70H115.00V60.00H116.50V64.00H118.00V68.00H119.80V73.00H135.40V83.50H138.40V92.30H163.70V101.30H201.20" fill="none" stroke="#ababab" stroke-width="0.9"/>
<path d="M66.00,33.20v-1.8M76.00,37.30v-1.8M84.00,40.20v-1.8M97.50,50.50v-1.8M99.00,50.50v-1.8M100.00,50.50v-1.8M101.00,50.50v-1.8M102.00,50.50v-1.8M103.50,50.50v-1.8M105.00,50.50v-1.8M107.00,50.50v-1.8M110.50,52.80v-1.8M111.50,52.80v-1.8M121.00,73.00v-1.8M122.00,73.00v-1.8M123.00,73.00v-1.8M124.00,73.00v-1.8M125.50,73.00v-1.8M128.00,73.00v-1.8M130.00,73.00v-1.8M132.00,73.00v-1.8M174.20,101.30v-1.8M187.70,101.30v-1.8M190.00,101.30v-1.8M192.50,101.30v-1.8M194.40,101.30v-1.8M201.20,101.30v-1.8" fill="none" stroke="#888888" stroke-width="0.7"/>
<path d="M46.70,28.50H47.80V29.80H49.50V31.50H50.70V32.70H53.00V35.00H54.70V36.10H57.60V39.00H59.30V41.30H60.50V43.00H61.00V48.80H62.80V49.40H66.20V51.10H67.40V52.80H68.00V57.50H69.70V58.60H70.80V62.00H74.60V70.60H82.30V73.80H89.00V83.00H91.00V85.00H93.80V88.80H95.80V93.00H109.60V97.90H133.30V105.40H141.60V111.50H146.30V118.30H152.90V126.90H177.10V134.10H195.00" fill="none" stroke="#f59497" stroke-width="0.9"/>
<path d="M47.00,28.50v-1.8M63.50,49.40v-1.8M78.00,70.60v-1.8M81.00,70.60v-1.8M86.00,73.80v-1.8M98.50,93.00v-1.8M106.00,93.00v-1.8M113.00,97.90v-1.8M116.50,97.90v-1.8M121.50,97.90v-1.8M191.40,134.10v-1.8M195.00,134.10v-1.8" fill="none" stroke="#f2686c" stroke-width="0.7"/>
<text x="206.20" y="45.50" font-size="6.4" fill="#2aa5c9" text-anchor="middle" font-weight="bold" stroke="#2aa5c9" stroke-width="0.12" transform="translate(0,45.50) scale(1,1.06) translate(0,-45.50)">Never detected</text>
<text x="204.30" y="92.10" font-size="6.4" fill="#8c8c8c" text-anchor="middle" font-weight="bold" stroke="#8c8c8c" stroke-width="0.12" transform="translate(0,92.10) scale(1,1.06) translate(0,-92.10)">Clearance</text>
<text x="206.20" y="120.80" font-size="6.4" fill="#fa2030" text-anchor="middle" font-weight="bold" stroke="#fa2030" stroke-width="0.12" transform="translate(0,120.80) scale(1,1.06) translate(0,-120.80)">Persistent</text>
<text x="205.40" y="128.40" font-size="6.4" fill="#fa2030" text-anchor="middle" font-weight="bold" stroke="#fa2030" stroke-width="0.12" transform="translate(0,128.40) scale(1,1.06) translate(0,-128.40)">detection</text>
<path d="M322.00,25.75H323.20V26.50H323.80V28.90H333.00V30.70H336.50V31.80H338.80V33.50H339.30V37.00H344.50V39.30H345.70V41.00H348.60V43.30H349.20V52.60H359.00V53.70H360.10V55.50H361.80V57.30H364.20V60.40H371.80V61.20H374.90V62.70H378.80V64.20H380.30V68.80H381.10V73.30H391.80V80.80H402.20V90.20H413.20V101.30H482.50" fill="none" stroke="#9fd3e5" stroke-width="0.9"/>
<path d="M329.00,28.90v-1.8M336.00,30.70v-1.8M337.50,31.80v-1.8M343.50,37.00v-1.8M346.00,41.00v-1.8M357.00,52.60v-1.8M360.00,53.70v-1.8M370.00,60.40v-1.8M380.50,68.80v-1.8M384.00,73.30v-1.8M386.00,73.30v-1.8M388.00,73.30v-1.8M389.50,73.30v-1.8M395.00,80.80v-1.8M399.00,80.80v-1.8M411.00,90.20v-1.8M452.00,101.30v-1.8M456.00,101.30v-1.8M470.00,101.30v-1.8M482.50,101.30v-1.8" fill="none" stroke="#5ab6d4" stroke-width="0.7"/>
<path d="M322.00,25.75H323.80V27.80H325.50V30.10H327.20V32.40H328.40V34.70H329.00V40.50H331.80V41.60H333.60V43.90H334.70V48.00H337.00V49.10H339.30V52.00H342.80V53.70H344.50V56.60H346.50V58.10H348.80V61.20H350.30V66.50H353.40V68.10H354.90V73.50H355.70V78.10H358.00V79.60H359.50V84.20H362.60V87.30H364.90V88.10H368.80V89.60H370.30V94.20H372.60V96.50H376.50V99.60H379.50V100.40H381.80V102.70H384.20V105.00H385.20V112.50H392.10V116.50H395.60V121.70H406.50V130.20H464.50" fill="none" stroke="#ababab" stroke-width="0.9"/>
<path d="M330.00,40.50v-1.8M352.00,66.50v-1.8M360.00,84.20v-1.8M366.00,88.10v-1.8M378.50,99.60v-1.8M392.00,112.50v-1.8M399.00,121.70v-1.8M401.00,121.70v-1.8M403.00,121.70v-1.8M433.00,130.20v-1.8M464.50,130.20v-1.8" fill="none" stroke="#888888" stroke-width="0.7"/>
<path d="M322.00,25.75H323.80V28.90H324.90V30.70H326.10V32.40H327.20V34.70H327.80V39.30H328.40V42.80H330.70V44.50H333.00V45.70H333.60V52.00H334.20V54.30H335.30V56.60H336.50V58.10H338.00V59.60H339.50V65.00H341.00V68.80H342.60V73.50H343.40V80.40H344.20V91.90H346.50V92.70H348.00V95.30H354.90V101.20H359.50V103.50H360.30V105.50H416.60V119.40H418.40V133.30H464.50" fill="none" stroke="#f59497" stroke-width="0.9"/>
<path d="M349.00,95.30v-1.8M365.00,105.50v-1.8M368.00,105.50v-1.8M370.00,105.50v-1.8M373.00,105.50v-1.8M376.00,105.50v-1.8M378.00,105.50v-1.8M383.00,105.50v-1.8M390.50,105.50v-1.8M402.50,105.50v-1.8M464.50,133.30v-1.8" fill="none" stroke="#f2686c" stroke-width="0.7"/>
<text x="460.00" y="90.60" font-size="6.4" fill="#2aa5c9" text-anchor="middle" font-weight="bold" stroke="#2aa5c9" stroke-width="0.12" transform="translate(0,90.60) scale(1,1.06) translate(0,-90.60)">Never detected</text>
<text x="455.75" y="123.10" font-size="6.4" fill="#8c8c8c" text-anchor="middle" font-weight="bold" stroke="#8c8c8c" stroke-width="0.12" transform="translate(0,123.10) scale(1,1.06) translate(0,-123.10)">Clearance</text>
<text x="484.75" y="140.10" font-size="6.4" fill="#fa2030" text-anchor="middle" font-weight="bold" stroke="#fa2030" stroke-width="0.12" transform="translate(0,140.10) scale(1,1.06) translate(0,-140.10)">Persistent</text>
<text x="485.00" y="147.60" font-size="6.4" fill="#fa2030" text-anchor="middle" font-weight="bold" stroke="#fa2030" stroke-width="0.12" transform="translate(0,147.60) scale(1,1.06) translate(0,-147.60)">detection</text>
<path d="M44.50,400.75H50.10V401.10H54.80V402.00H64.20V403.40H66.90V404.30H93.50V405.40H95.90V406.10H108.60V407.20H109.30V408.10H124.50V410.10H125.90V412.10H128.10V416.20H220.50" fill="none" stroke="#9fd3e5" stroke-width="0.9"/>
<path d="M62.00,402.00v-1.8M72.00,404.30v-1.8M80.00,404.30v-1.8M84.00,404.30v-1.8M89.00,404.30v-1.8M91.00,404.30v-1.8M100.00,406.10v-1.8M101.50,406.10v-1.8M103.00,406.10v-1.8M104.00,406.10v-1.8M105.50,406.10v-1.8M107.00,406.10v-1.8M110.00,408.10v-1.8M113.00,408.10v-1.8M116.00,408.10v-1.8M118.00,408.10v-1.8M121.00,408.10v-1.8M122.50,408.10v-1.8M130.00,416.20v-1.8M136.00,416.20v-1.8M148.00,416.20v-1.8M181.00,416.20v-1.8M183.00,416.20v-1.8M185.00,416.20v-1.8M188.00,416.20v-1.8M191.00,416.20v-1.8M192.00,416.20v-1.8M194.00,416.20v-1.8M196.00,416.20v-1.8M199.00,416.20v-1.8M210.00,416.20v-1.8M220.50,416.20v-1.8" fill="none" stroke="#5ab6d4" stroke-width="0.7"/>
<path d="M44.50,400.75H50.10V401.10H54.80V402.00H62.90V402.50H64.20V403.40H66.90V405.40H69.60V407.40H72.30V408.80H75.00V409.50H77.70V410.80H81.70V412.20H84.40V414.80H88.50V417.50H91.10V418.90H93.20V420.20H95.20V422.20H97.90V424.30H100.60V424.90H102.60V426.30H104.60V429.00H106.30V432.30H109.00V435.00H111.70V435.70H114.40V436.30H118.50V437.70H120.50V439.70H122.50V440.40H130.60V441.70H131.90V444.40H133.30V445.50H159.50V447.10H162.20V449.80H164.20V451.10H170.80V453.20H177.50V455.20H182.90V456.50H190.00V457.50H197.50V462.60H220.00" fill="none" stroke="#ababab" stroke-width="0.9"/>
<path d="M70.00,407.40v-1.8M71.60,407.40v-1.8M73.20,408.80v-1.8M74.80,408.80v-1.8M76.40,409.50v-1.8M78.00,410.80v-1.8M79.60,410.80v-1.8M81.20,410.80v-1.8M82.80,412.20v-1.8M84.40,412.20v-1.8M86.00,414.80v-1.8M87.60,414.80v-1.8M89.20,417.50v-1.8M90.80,417.50v-1.8M92.40,418.90v-1.8M94.00,420.20v-1.8M95.60,422.20v-1.8M97.20,422.20v-1.8M98.80,424.30v-1.8M100.40,424.30v-1.8M102.00,424.90v-1.8M103.60,426.30v-1.8M105.20,429.00v-1.8M106.80,432.30v-1.8M108.40,432.30v-1.8M110.00,435.00v-1.8M111.60,435.00v-1.8M113.20,435.70v-1.8M114.80,436.30v-1.8M116.40,436.30v-1.8M118.00,436.30v-1.8M119.60,437.70v-1.8M121.20,439.70v-1.8M122.80,440.40v-1.8M124.40,440.40v-1.8M126.00,440.40v-1.8M127.60,440.40v-1.8M129.20,440.40v-1.8M130.80,441.70v-1.8M132.40,444.40v-1.8M136.00,445.50v-1.8M140.00,445.50v-1.8M143.00,445.50v-1.8M150.00,445.50v-1.8M166.00,451.10v-1.8M172.00,453.20v-1.8M176.00,453.20v-1.8M180.00,455.20v-1.8M184.00,456.50v-1.8M186.00,456.50v-1.8M188.00,456.50v-1.8M190.00,457.50v-1.8M192.00,457.50v-1.8M194.00,457.50v-1.8M196.00,457.50v-1.8M200.00,462.60v-1.8M203.00,462.60v-1.8M206.00,462.60v-1.8M210.00,462.60v-1.8M213.00,462.60v-1.8M216.00,462.60v-1.8M220.00,462.60v-1.8" fill="none" stroke="#888888" stroke-width="0.7"/>
<path d="M44.50,400.75H50.80V401.40H54.50V402.70H64.20V412.80H67.60V413.50H68.30V420.90H76.10V424.90H78.40V428.30H85.10V429.00H86.40V432.30H87.80V435.70H94.50V436.40H95.20V439.10H105.30V443.10H131.00V447.80H137.00V453.60H165.50V458.60H205.80" fill="none" stroke="#f59497" stroke-width="0.9"/>
<path d="M60.00,402.70v-1.8M70.00,420.90v-1.8M79.00,428.30v-1.8M101.00,439.10v-1.8M103.00,439.10v-1.8M106.00,443.10v-1.8M108.00,443.10v-1.8M110.00,443.10v-1.8M114.00,443.10v-1.8M118.00,443.10v-1.8M150.00,453.60v-1.8M158.00,453.60v-1.8M163.00,453.60v-1.8M170.00,458.60v-1.8M176.00,458.60v-1.8M182.00,458.60v-1.8M186.00,458.60v-1.8M190.00,458.60v-1.8M193.00,458.60v-1.8M195.00,458.60v-1.8M197.00,458.60v-1.8M200.00,458.60v-1.8M203.00,458.60v-1.8M205.80,458.60v-1.8" fill="none" stroke="#f2686c" stroke-width="0.7"/>
<text x="202.25" y="411.40" font-size="6.4" fill="#2aa5c9" text-anchor="middle" font-weight="bold" stroke="#2aa5c9" stroke-width="0.12" transform="translate(0,411.40) scale(1,1.06) translate(0,-411.40)">Never detected</text>
<text x="197.70" y="452.20" font-size="6.4" fill="#8c8c8c" text-anchor="middle" font-weight="bold" stroke="#8c8c8c" stroke-width="0.12" transform="translate(0,452.20) scale(1,1.06) translate(0,-452.20)">Clearance</text>
<text x="197.90" y="475.10" font-size="6.4" fill="#fa2030" text-anchor="middle" font-weight="bold" stroke="#fa2030" stroke-width="0.12" transform="translate(0,475.10) scale(1,1.06) translate(0,-475.10)">Persistent</text>
<text x="197.90" y="482.60" font-size="6.4" fill="#fa2030" text-anchor="middle" font-weight="bold" stroke="#fa2030" stroke-width="0.12" transform="translate(0,482.60) scale(1,1.06) translate(0,-482.60)">detection</text>
<path d="M317.00,399.75H318.90V401.80H321.20V403.50H323.50V406.40H325.80V407.50H328.20V408.10H329.30V409.30H331.60V410.40H333.30V411.60H335.10V413.30H338.50V413.90H342.00V415.00H343.20V419.10H344.30V420.80H345.50V423.10H348.90V424.30H351.20V425.40H353.50V426.30H354.80V428.40H358.80V430.40H362.20V431.10H362.90V435.10H364.20V438.50H365.60V441.20H375.00V441.80H375.70V443.80H378.40V447.20H380.40V449.20H383.10V451.20H383.70V453.30H398.10V456.40H407.00V459.40H425.60V464.20H437.60V468.50H491.75" fill="none" stroke="#9fd3e5" stroke-width="0.9"/>
<path d="M322.00,403.50v-1.8M327.00,407.50v-1.8M330.00,409.30v-1.8M334.00,411.60v-1.8M336.00,413.30v-1.8M339.00,413.90v-1.8M341.00,413.90v-1.8M346.00,423.10v-1.8M352.00,425.40v-1.8M358.00,428.40v-1.8M360.00,430.40v-1.8M363.00,435.10v-1.8M368.00,441.20v-1.8M371.00,441.20v-1.8M378.00,443.80v-1.8M389.00,453.30v-1.8M393.00,453.30v-1.8M400.00,456.40v-1.8M404.00,456.40v-1.8M421.00,459.40v-1.8M452.00,468.50v-1.8M454.50,468.50v-1.8M464.00,468.50v-1.8M468.00,468.50v-1.8M473.50,468.50v-1.8M478.00,468.50v-1.8M491.75,468.50v-1.8" fill="none" stroke="#5ab6d4" stroke-width="0.7"/>
<path d="M317.00,399.75H317.20V401.20H318.30V402.90H319.50V404.70H320.70V406.40H321.20V409.80H322.40V413.30H323.50V419.10H327.00V419.70H328.20V423.70H328.70V426.60H330.50V428.30H332.80V430.60H333.90V432.90H335.10V437.50H336.20V439.80H338.00V442.70H341.40V444.50H342.00V447.90H345.40V450.60H348.10V453.30H349.40V456.00H353.50V457.30H354.80V460.70H357.50V462.70H360.20V464.00H361.50V466.70H362.20V468.10H368.90V468.70H375.70V472.30H453.60V481.50H476.30" fill="none" stroke="#f59497" stroke-width="0.9"/>
<path d="M336.00,437.50v-1.8M344.00,447.90v-1.8M352.00,456.00v-1.8M358.00,462.70v-1.8M363.00,468.10v-1.8M366.00,468.10v-1.8M369.00,468.70v-1.8M372.00,468.70v-1.8M378.00,472.30v-1.8M385.00,472.30v-1.8M395.00,472.30v-1.8M400.00,472.30v-1.8M401.50,472.30v-1.8M409.00,472.30v-1.8M414.00,472.30v-1.8M422.00,472.30v-1.8M446.00,472.30v-1.8M455.00,481.50v-1.8M467.00,481.50v-1.8M472.00,481.50v-1.8M476.30,481.50v-1.8" fill="none" stroke="#f2686c" stroke-width="0.7"/>
<path d="M317.00,399.75H321.20V401.20H322.40V405.20H323.50V407.50H327.00V409.80H328.20V412.70H329.30V416.80H331.00V418.50H332.80V420.20H333.90V423.70H335.70V426.00H337.40V428.30H339.10V432.90H340.80V435.20H342.70V439.80H345.40V442.50H348.10V449.90H350.80V452.60H353.50V455.30H356.20V458.60H358.80V461.30H361.50V462.70H364.20V465.40H366.90V468.10H369.60V470.80H373.60V471.40H375.70V474.10H377.70V476.10H381.70V476.80H384.40V478.80H386.40V481.50H389.80V484.20H393.70V485.40H395.60V489.20H404.20V490.60H414.80V493.10H464.80V496.00H465.80V499.80H469.60V503.70H470.60V508.50H476.30" fill="none" stroke="#ababab" stroke-width="0.9"/>
<path d="M320.00,399.75v-1.8M326.00,407.50v-1.8M334.00,423.70v-1.8M338.00,428.30v-1.8M344.00,439.80v-1.8M349.00,449.90v-1.8M352.00,452.60v-1.8M357.00,458.60v-1.8M362.00,462.70v-1.8M366.00,465.40v-1.8M372.00,470.80v-1.8M379.00,476.10v-1.8M382.00,476.80v-1.8M388.00,481.50v-1.8M392.00,484.20v-1.8M400.00,489.20v-1.8M410.00,490.60v-1.8M427.00,493.10v-1.8M450.00,493.10v-1.8M456.00,493.10v-1.8M458.00,493.10v-1.8M461.00,493.10v-1.8M476.30,508.50v-1.8" fill="none" stroke="#888888" stroke-width="0.7"/>
<text x="478.10" y="460.10" font-size="6.4" fill="#2aa5c9" text-anchor="middle" font-weight="bold" stroke="#2aa5c9" stroke-width="0.12" transform="translate(0,460.10) scale(1,1.06) translate(0,-460.10)">Never detected</text>
<text x="495.75" y="486.90" font-size="6.4" fill="#fa2030" text-anchor="middle" font-weight="bold" stroke="#fa2030" stroke-width="0.12" transform="translate(0,486.90) scale(1,1.06) translate(0,-486.90)">Persistent</text>
<text x="494.50" y="494.60" font-size="6.4" fill="#fa2030" text-anchor="middle" font-weight="bold" stroke="#fa2030" stroke-width="0.12" transform="translate(0,494.60) scale(1,1.06) translate(0,-494.60)">detection</text>
<text x="448.00" y="508.50" font-size="6.4" fill="#8c8c8c" text-anchor="middle" font-weight="bold" stroke="#8c8c8c" stroke-width="0.12" transform="translate(0,508.50) scale(1,1.06) translate(0,-508.50)">Clearance</text>
<rect x="18.50" y="202.50" width="228.50" height="48.40" fill="none" stroke="#222" stroke-width="1"/>
<text x="113.30" y="210.60" font-size="7.8" fill="#1f3349" text-anchor="middle" stroke="#1f3349" stroke-width="0.12" transform="translate(0,210.60) scale(1,1.06) translate(0,-210.60)">Deaths/N</text>
<text x="161.90" y="210.60" font-size="7.8" fill="#1f3349" text-anchor="middle" stroke="#1f3349" stroke-width="0.12" transform="translate(0,210.60) scale(1,1.06) translate(0,-210.60)">Median (Years)</text>
<text x="217.60" y="210.60" font-size="7.8" fill="#1f3349" text-anchor="middle" stroke="#1f3349" stroke-width="0.12" transform="translate(0,210.60) scale(1,1.06) translate(0,-210.60)">1-Year estimate</text>
<text x="23.00" y="222.90" font-size="7.55" fill="#2aa5c9" stroke="#2aa5c9" stroke-width="0.12" transform="translate(0,222.90) scale(1,1.06) translate(0,-222.90)">Never detected</text>
<text x="113.30" y="222.90" font-size="7.55" fill="#2aa5c9" text-anchor="middle" stroke="#2aa5c9" stroke-width="0.12" transform="translate(0,222.90) scale(1,1.06) translate(0,-222.90)">6/72</text>
<text x="161.90" y="222.90" font-size="7.55" fill="#2aa5c9" text-anchor="middle" stroke="#2aa5c9" stroke-width="0.12" transform="translate(0,222.90) scale(1,1.06) translate(0,-222.90)">NR</text>
<text x="217.60" y="222.90" font-size="7.55" fill="#2aa5c9" text-anchor="middle" stroke="#2aa5c9" stroke-width="0.12" transform="translate(0,222.90) scale(1,1.06) translate(0,-222.90)">96% (91–100)</text>
<text x="23.00" y="235.10" font-size="7.55" fill="#8c8c8c" stroke="#8c8c8c" stroke-width="0.12" transform="translate(0,235.10) scale(1,1.06) translate(0,-235.10)">Clearance</text>
<text x="113.30" y="235.10" font-size="7.55" fill="#8c8c8c" text-anchor="middle" stroke="#8c8c8c" stroke-width="0.12" transform="translate(0,235.10) scale(1,1.06) translate(0,-235.10)">34/120</text>
<text x="161.90" y="235.10" font-size="7.55" fill="#8c8c8c" text-anchor="middle" stroke="#8c8c8c" stroke-width="0.12" transform="translate(0,235.10) scale(1,1.06) translate(0,-235.10)">2.1 (1.6–NR)</text>
<text x="217.60" y="235.10" font-size="7.55" fill="#8c8c8c" text-anchor="middle" stroke="#8c8c8c" stroke-width="0.12" transform="translate(0,235.10) scale(1,1.06) translate(0,-235.10)">88% (82–94)</text>
<text x="23.00" y="247.30" font-size="7.55" fill="#fa2030" stroke="#fa2030" stroke-width="0.12" transform="translate(0,247.30) scale(1,1.06) translate(0,-247.30)">Persistent detection</text>
<text x="113.30" y="247.30" font-size="7.55" fill="#fa2030" text-anchor="middle" stroke="#fa2030" stroke-width="0.12" transform="translate(0,247.30) scale(1,1.06) translate(0,-247.30)">26/41</text>
<text x="161.90" y="247.30" font-size="7.55" fill="#fa2030" text-anchor="middle" stroke="#fa2030" stroke-width="0.12" transform="translate(0,247.30) scale(1,1.06) translate(0,-247.30)">1.1 (0.6–2.1)</text>
<text x="217.60" y="247.30" font-size="7.55" fill="#fa2030" text-anchor="middle" stroke="#fa2030" stroke-width="0.12" transform="translate(0,247.30) scale(1,1.06) translate(0,-247.30)">52% (36–69)</text>
<rect x="290.50" y="202.50" width="228.50" height="48.40" fill="none" stroke="#222" stroke-width="1"/>
<text x="385.30" y="210.60" font-size="7.8" fill="#1f3349" text-anchor="middle" stroke="#1f3349" stroke-width="0.12" transform="translate(0,210.60) scale(1,1.06) translate(0,-210.60)">Deaths/N</text>
<text x="433.80" y="210.60" font-size="7.8" fill="#1f3349" text-anchor="middle" stroke="#1f3349" stroke-width="0.12" transform="translate(0,210.60) scale(1,1.06) translate(0,-210.60)">Median (Years)</text>
<text x="489.60" y="210.60" font-size="7.8" fill="#1f3349" text-anchor="middle" stroke="#1f3349" stroke-width="0.12" transform="translate(0,210.60) scale(1,1.06) translate(0,-210.60)">1-Year estimate</text>
<text x="295.00" y="222.90" font-size="7.55" fill="#2aa5c9" stroke="#2aa5c9" stroke-width="0.12" transform="translate(0,222.90) scale(1,1.06) translate(0,-222.90)">Never detected</text>
<text x="385.30" y="222.90" font-size="7.55" fill="#2aa5c9" text-anchor="middle" stroke="#2aa5c9" stroke-width="0.12" transform="translate(0,222.90) scale(1,1.06) translate(0,-222.90)">27/81</text>
<text x="433.80" y="222.90" font-size="7.55" fill="#2aa5c9" text-anchor="middle" stroke="#2aa5c9" stroke-width="0.12" transform="translate(0,222.90) scale(1,1.06) translate(0,-222.90)">1.8 (1.3–NR)</text>
<text x="489.60" y="222.90" font-size="7.55" fill="#2aa5c9" text-anchor="middle" stroke="#2aa5c9" stroke-width="0.12" transform="translate(0,222.90) scale(1,1.06) translate(0,-222.90)">71% (60–82)</text>
<text x="295.00" y="235.10" font-size="7.55" fill="#8c8c8c" stroke="#8c8c8c" stroke-width="0.12" transform="translate(0,235.10) scale(1,1.06) translate(0,-235.10)">Clearance</text>
<text x="385.30" y="235.10" font-size="7.55" fill="#8c8c8c" text-anchor="middle" stroke="#8c8c8c" stroke-width="0.12" transform="translate(0,235.10) scale(1,1.06) translate(0,-235.10)">73/124</text>
<text x="433.80" y="235.10" font-size="7.55" fill="#8c8c8c" text-anchor="middle" stroke="#8c8c8c" stroke-width="0.12" transform="translate(0,235.10) scale(1,1.06) translate(0,-235.10)">0.8 (0.7–1.2)</text>
<text x="489.60" y="235.10" font-size="7.55" fill="#8c8c8c" text-anchor="middle" stroke="#8c8c8c" stroke-width="0.12" transform="translate(0,235.10) scale(1,1.06) translate(0,-235.10)">48% (38–57)</text>
<text x="295.00" y="247.30" font-size="7.55" fill="#fa2030" stroke="#fa2030" stroke-width="0.12" transform="translate(0,247.30) scale(1,1.06) translate(0,-247.30)">Persistent detection</text>
<text x="385.30" y="247.30" font-size="7.55" fill="#fa2030" text-anchor="middle" stroke="#fa2030" stroke-width="0.12" transform="translate(0,247.30) scale(1,1.06) translate(0,-247.30)">31/52</text>
<text x="433.80" y="247.30" font-size="7.55" fill="#fa2030" text-anchor="middle" stroke="#fa2030" stroke-width="0.12" transform="translate(0,247.30) scale(1,1.06) translate(0,-247.30)">0.5 (0.4–0.8)</text>
<text x="489.60" y="247.30" font-size="7.55" fill="#fa2030" text-anchor="middle" stroke="#fa2030" stroke-width="0.12" transform="translate(0,247.30) scale(1,1.06) translate(0,-247.30)">34% (19–49)</text>
<rect x="18.50" y="576.50" width="228.50" height="48.60" fill="none" stroke="#222" stroke-width="1"/>
<text x="113.30" y="585.00" font-size="7.8" fill="#1f3349" text-anchor="middle" stroke="#1f3349" stroke-width="0.12" transform="translate(0,585.00) scale(1,1.06) translate(0,-585.00)">Deaths/N</text>
<text x="161.90" y="585.00" font-size="7.8" fill="#1f3349" text-anchor="middle" stroke="#1f3349" stroke-width="0.12" transform="translate(0,585.00) scale(1,1.06) translate(0,-585.00)">Median (Years)</text>
<text x="217.60" y="585.00" font-size="7.8" fill="#1f3349" text-anchor="middle" stroke="#1f3349" stroke-width="0.12" transform="translate(0,585.00) scale(1,1.06) translate(0,-585.00)">1-Year estimate</text>
<text x="23.00" y="597.20" font-size="7.55" fill="#2aa5c9" stroke="#2aa5c9" stroke-width="0.12" transform="translate(0,597.20) scale(1,1.06) translate(0,-597.20)">Never detected</text>
<text x="113.30" y="597.20" font-size="7.55" fill="#2aa5c9" text-anchor="middle" stroke="#2aa5c9" stroke-width="0.12" transform="translate(0,597.20) scale(1,1.06) translate(0,-597.20)">8/101</text>
<text x="161.90" y="597.20" font-size="7.55" fill="#2aa5c9" text-anchor="middle" stroke="#2aa5c9" stroke-width="0.12" transform="translate(0,597.20) scale(1,1.06) translate(0,-597.20)">NR</text>
<text x="217.60" y="597.20" font-size="7.55" fill="#2aa5c9" text-anchor="middle" stroke="#2aa5c9" stroke-width="0.12" transform="translate(0,597.20) scale(1,1.06) translate(0,-597.20)">97% (94–100)</text>
<text x="23.00" y="609.30" font-size="7.55" fill="#8c8c8c" stroke="#8c8c8c" stroke-width="0.12" transform="translate(0,609.30) scale(1,1.06) translate(0,-609.30)">Clearance</text>
<text x="113.30" y="609.30" font-size="7.55" fill="#8c8c8c" text-anchor="middle" stroke="#8c8c8c" stroke-width="0.12" transform="translate(0,609.30) scale(1,1.06) translate(0,-609.30)">76/257</text>
<text x="161.90" y="609.30" font-size="7.55" fill="#8c8c8c" text-anchor="middle" stroke="#8c8c8c" stroke-width="0.12" transform="translate(0,609.30) scale(1,1.06) translate(0,-609.30)">3.5 (2.7–NR)</text>
<text x="217.60" y="609.30" font-size="7.55" fill="#8c8c8c" text-anchor="middle" stroke="#8c8c8c" stroke-width="0.12" transform="translate(0,609.30) scale(1,1.06) translate(0,-609.30)">87% (82–91)</text>
<text x="23.00" y="621.50" font-size="7.55" fill="#fa2030" stroke="#fa2030" stroke-width="0.12" transform="translate(0,621.50) scale(1,1.06) translate(0,-621.50)">Persistent detection</text>
<text x="113.30" y="621.50" font-size="7.55" fill="#fa2030" text-anchor="middle" stroke="#fa2030" stroke-width="0.12" transform="translate(0,621.50) scale(1,1.06) translate(0,-621.50)">19/48</text>
<text x="161.90" y="621.50" font-size="7.55" fill="#fa2030" text-anchor="middle" stroke="#fa2030" stroke-width="0.12" transform="translate(0,621.50) scale(1,1.06) translate(0,-621.50)">NR</text>
<text x="217.60" y="621.50" font-size="7.55" fill="#fa2030" text-anchor="middle" stroke="#fa2030" stroke-width="0.12" transform="translate(0,621.50) scale(1,1.06) translate(0,-621.50)">70% (57–83)</text>
<rect x="290.50" y="576.50" width="228.80" height="48.60" fill="none" stroke="#222" stroke-width="1"/>
<text x="385.30" y="585.00" font-size="7.8" fill="#1f3349" text-anchor="middle" stroke="#1f3349" stroke-width="0.12" transform="translate(0,585.00) scale(1,1.06) translate(0,-585.00)">Deaths/N</text>
<text x="433.80" y="585.00" font-size="7.8" fill="#1f3349" text-anchor="middle" stroke="#1f3349" stroke-width="0.12" transform="translate(0,585.00) scale(1,1.06) translate(0,-585.00)">Median (Years)</text>
<text x="489.60" y="585.00" font-size="7.8" fill="#1f3349" text-anchor="middle" stroke="#1f3349" stroke-width="0.12" transform="translate(0,585.00) scale(1,1.06) translate(0,-585.00)">1-Year estimate</text>
<text x="295.00" y="597.20" font-size="7.55" fill="#2aa5c9" stroke="#2aa5c9" stroke-width="0.12" transform="translate(0,597.20) scale(1,1.06) translate(0,-597.20)">Never detected</text>
<text x="385.30" y="597.20" font-size="7.55" fill="#2aa5c9" text-anchor="middle" stroke="#2aa5c9" stroke-width="0.12" transform="translate(0,597.20) scale(1,1.06) translate(0,-597.20)">45/121</text>
<text x="433.80" y="597.20" font-size="7.55" fill="#2aa5c9" text-anchor="middle" stroke="#2aa5c9" stroke-width="0.12" transform="translate(0,597.20) scale(1,1.06) translate(0,-597.20)">2.1 (1.4–NR)</text>
<text x="489.60" y="597.20" font-size="7.55" fill="#2aa5c9" text-anchor="middle" stroke="#2aa5c9" stroke-width="0.12" transform="translate(0,597.20) scale(1,1.06) translate(0,-597.20)">74% (66–82)</text>
<text x="295.00" y="609.30" font-size="7.55" fill="#8c8c8c" stroke="#8c8c8c" stroke-width="0.12" transform="translate(0,609.30) scale(1,1.06) translate(0,-609.30)">Clearance</text>
<text x="385.30" y="609.30" font-size="7.55" fill="#8c8c8c" text-anchor="middle" stroke="#8c8c8c" stroke-width="0.12" transform="translate(0,609.30) scale(1,1.06) translate(0,-609.30)">174/295</text>
<text x="433.80" y="609.30" font-size="7.55" fill="#8c8c8c" text-anchor="middle" stroke="#8c8c8c" stroke-width="0.12" transform="translate(0,609.30) scale(1,1.06) translate(0,-609.30)">0.9 (0.8–1.1)</text>
<text x="489.60" y="609.30" font-size="7.55" fill="#8c8c8c" text-anchor="middle" stroke="#8c8c8c" stroke-width="0.12" transform="translate(0,609.30) scale(1,1.06) translate(0,-609.30)">47% (41–54)</text>
<text x="295.00" y="621.50" font-size="7.55" fill="#fa2030" stroke="#fa2030" stroke-width="0.12" transform="translate(0,621.50) scale(1,1.06) translate(0,-621.50)">Persistent detection</text>
<text x="385.30" y="621.50" font-size="7.55" fill="#fa2030" text-anchor="middle" stroke="#fa2030" stroke-width="0.12" transform="translate(0,621.50) scale(1,1.06) translate(0,-621.50)">61/111</text>
<text x="433.80" y="621.50" font-size="7.55" fill="#fa2030" text-anchor="middle" stroke="#fa2030" stroke-width="0.12" transform="translate(0,621.50) scale(1,1.06) translate(0,-621.50)">0.9 (0.6–1.3)</text>
<text x="489.60" y="621.50" font-size="7.55" fill="#fa2030" text-anchor="middle" stroke="#fa2030" stroke-width="0.12" transform="translate(0,621.50) scale(1,1.06) translate(0,-621.50)">47% (37–57)</text>
<text x="131.00" y="265.20" font-size="8.9" fill="#111" text-anchor="middle" font-weight="bold" stroke="#111" stroke-width="0.12" transform="translate(0,265.20) scale(1,1.06) translate(0,-265.20)">Multivariable associations</text>
<text x="405.00" y="265.20" font-size="8.9" fill="#111" text-anchor="middle" font-weight="bold" stroke="#111" stroke-width="0.12" transform="translate(0,265.20) scale(1,1.06) translate(0,-265.20)">Multivariable associations</text>
<text x="132.80" y="638.70" font-size="8.9" fill="#111" text-anchor="middle" font-weight="bold" stroke="#111" stroke-width="0.12" transform="translate(0,638.70) scale(1,1.06) translate(0,-638.70)">Multivariable associations</text>
<text x="405.00" y="638.70" font-size="8.9" fill="#111" text-anchor="middle" font-weight="bold" stroke="#111" stroke-width="0.12" transform="translate(0,638.70) scale(1,1.06) translate(0,-638.70)">Multivariable associations</text>
<rect x="31.75" y="273.50" width="199.00" height="12.40" fill="#000" stroke="none" stroke-width="1"/>
<rect x="32.25" y="274.00" width="198.00" height="82.70" fill="none" stroke="#222" stroke-width="1"/>
<line x1="120.00" y1="285.90" x2="120.00" y2="357.20" stroke="#222" stroke-width="1.2"/>
<line x1="120.00" y1="274.50" x2="120.00" y2="285.90" stroke="#fff" stroke-width="1"/>
<line x1="31.75" y1="309.50" x2="230.75" y2="309.50" stroke="#222" stroke-width="1"/>
<line x1="31.75" y1="333.25" x2="230.75" y2="333.25" stroke="#222" stroke-width="1"/>
<text x="36.75" y="282.40" font-size="8.8" fill="#fff" font-weight="bold" stroke="#fff" stroke-width="0.12" transform="translate(0,282.40) scale(1,1.06) translate(0,-282.40)">Comparison</text>
<text x="122.80" y="282.40" font-size="8.8" fill="#fff" font-weight="bold" stroke="#fff" stroke-width="0.12" transform="translate(0,282.40) scale(1,1.06) translate(0,-282.40)">HR (95% CI), <tspan font-style="italic">P</tspan> value</text>
<text x="36.75" y="296.80" font-size="8.8" fill="#8c8c8c" stroke="#8c8c8c" stroke-width="0.12" transform="translate(0,296.80) scale(1,1.06) translate(0,-296.80)">Clearance</text>
<text x="36.75" y="307.40" font-size="8.8" fill="#222" stroke="#222" stroke-width="0.12" transform="translate(0,307.40) scale(1,1.06) translate(0,-307.40)">vs. <tspan fill="#2aa5c9" stroke="#2aa5c9">never detected</tspan></text>
<text x="122.80" y="300.80" font-size="8.8" fill="#111" stroke="#111" stroke-width="0.12" transform="translate(0,300.80) scale(1,1.06) translate(0,-300.80)">4.80 (1.78–12.92), 0.002</text>
<text x="36.75" y="320.40" font-size="8.8" fill="#fa2030" stroke="#fa2030" stroke-width="0.12" transform="translate(0,320.40) scale(1,1.06) translate(0,-320.40)">Persistent detection</text>
<text x="36.75" y="331.00" font-size="8.8" fill="#222" stroke="#222" stroke-width="0.12" transform="translate(0,331.00) scale(1,1.06) translate(0,-331.00)">vs. <tspan fill="#2aa5c9" stroke="#2aa5c9">never detected</tspan></text>
<text x="122.80" y="324.40" font-size="8.8" fill="#111" stroke="#111" stroke-width="0.12" transform="translate(0,324.40) scale(1,1.06) translate(0,-324.40)">19.93 (5.89–67.44), &lt;0.001</text>
<text x="36.75" y="344.15" font-size="8.8" fill="#fa2030" stroke="#fa2030" stroke-width="0.12" transform="translate(0,344.15) scale(1,1.06) translate(0,-344.15)">Persistent detection</text>
<text x="36.75" y="354.75" font-size="8.8" fill="#222" stroke="#222" stroke-width="0.12" transform="translate(0,354.75) scale(1,1.06) translate(0,-354.75)">vs. <tspan fill="#8c8c8c" stroke="#8c8c8c">clearance</tspan></text>
<text x="122.80" y="348.15" font-size="8.8" fill="#111" stroke="#111" stroke-width="0.12" transform="translate(0,348.15) scale(1,1.06) translate(0,-348.15)">4.15 (2.07–8.33), &lt;0.001</text>
<rect x="307.50" y="273.50" width="194.25" height="12.40" fill="#000" stroke="none" stroke-width="1"/>
<rect x="308.00" y="274.00" width="193.25" height="82.70" fill="none" stroke="#222" stroke-width="1"/>
<line x1="395.50" y1="285.90" x2="395.50" y2="357.20" stroke="#222" stroke-width="1.2"/>
<line x1="395.50" y1="274.50" x2="395.50" y2="285.90" stroke="#fff" stroke-width="1"/>
<line x1="307.50" y1="309.50" x2="501.75" y2="309.50" stroke="#222" stroke-width="1"/>
<line x1="307.50" y1="333.25" x2="501.75" y2="333.25" stroke="#222" stroke-width="1"/>
<text x="312.50" y="282.40" font-size="8.8" fill="#fff" font-weight="bold" stroke="#fff" stroke-width="0.12" transform="translate(0,282.40) scale(1,1.06) translate(0,-282.40)">Comparison</text>
<text x="398.30" y="282.40" font-size="8.8" fill="#fff" font-weight="bold" stroke="#fff" stroke-width="0.12" transform="translate(0,282.40) scale(1,1.06) translate(0,-282.40)">HR (95% CI), <tspan font-style="italic">P</tspan> value</text>
<text x="312.50" y="296.80" font-size="8.8" fill="#8c8c8c" stroke="#8c8c8c" stroke-width="0.12" transform="translate(0,296.80) scale(1,1.06) translate(0,-296.80)">Clearance</text>
<text x="312.50" y="307.40" font-size="8.8" fill="#222" stroke="#222" stroke-width="0.12" transform="translate(0,307.40) scale(1,1.06) translate(0,-307.40)">vs. <tspan fill="#2aa5c9" stroke="#2aa5c9">never detected</tspan></text>
<text x="398.30" y="300.80" font-size="8.8" fill="#111" stroke="#111" stroke-width="0.12" transform="translate(0,300.80) scale(1,1.06) translate(0,-300.80)">3.11 (1.82–5.32), &lt;0.001</text>
<text x="312.50" y="320.40" font-size="8.8" fill="#fa2030" stroke="#fa2030" stroke-width="0.12" transform="translate(0,320.40) scale(1,1.06) translate(0,-320.40)">Persistent detection</text>
<text x="312.50" y="331.00" font-size="8.8" fill="#222" stroke="#222" stroke-width="0.12" transform="translate(0,331.00) scale(1,1.06) translate(0,-331.00)">vs. <tspan fill="#2aa5c9" stroke="#2aa5c9">never detected</tspan></text>
<text x="398.30" y="324.40" font-size="8.8" fill="#111" stroke="#111" stroke-width="0.12" transform="translate(0,324.40) scale(1,1.06) translate(0,-324.40)">7.92 (3.77–16.65), &lt;0.001</text>
<text x="312.50" y="344.15" font-size="8.8" fill="#fa2030" stroke="#fa2030" stroke-width="0.12" transform="translate(0,344.15) scale(1,1.06) translate(0,-344.15)">Persistent detection</text>
<text x="312.50" y="354.75" font-size="8.8" fill="#222" stroke="#222" stroke-width="0.12" transform="translate(0,354.75) scale(1,1.06) translate(0,-354.75)">vs. <tspan fill="#8c8c8c" stroke="#8c8c8c">clearance</tspan></text>
<text x="398.30" y="348.15" font-size="8.8" fill="#111" stroke="#111" stroke-width="0.12" transform="translate(0,348.15) scale(1,1.06) translate(0,-348.15)">2.55 (1.50–4.31), &lt;0.001</text>
<rect x="45.75" y="643.50" width="174.25" height="12.80" fill="#000" stroke="none" stroke-width="1"/>
<rect x="46.25" y="644.00" width="173.25" height="83.00" fill="none" stroke="#222" stroke-width="1"/>
<line x1="134.25" y1="656.30" x2="134.25" y2="727.50" stroke="#222" stroke-width="1.2"/>
<line x1="134.25" y1="644.50" x2="134.25" y2="656.30" stroke="#fff" stroke-width="1"/>
<line x1="45.75" y1="679.80" x2="220.00" y2="679.80" stroke="#222" stroke-width="1"/>
<line x1="45.75" y1="703.50" x2="220.00" y2="703.50" stroke="#222" stroke-width="1"/>
<text x="50.75" y="652.80" font-size="7.6" fill="#fff" font-weight="bold" stroke="#fff" stroke-width="0.12" transform="translate(0,652.80) scale(1,1.06) translate(0,-652.80)">Comparison</text>
<text x="137.05" y="652.80" font-size="7.6" fill="#fff" font-weight="bold" stroke="#fff" stroke-width="0.12" transform="translate(0,652.80) scale(1,1.06) translate(0,-652.80)">HR (95% CI), <tspan font-style="italic">P</tspan> value</text>
<text x="50.75" y="666.70" font-size="7.6" fill="#8c8c8c" stroke="#8c8c8c" stroke-width="0.12" transform="translate(0,666.70) scale(1,1.06) translate(0,-666.70)">Clearance</text>
<text x="50.75" y="676.10" font-size="7.6" fill="#222" stroke="#222" stroke-width="0.12" transform="translate(0,676.10) scale(1,1.06) translate(0,-676.10)">vs. <tspan fill="#2aa5c9" stroke="#2aa5c9">never detected</tspan></text>
<text x="137.05" y="671.30" font-size="7.6" fill="#111" stroke="#111" stroke-width="0.12" transform="translate(0,671.30) scale(1,1.06) translate(0,-671.30)">2.05 (0.82–5.13), 0.124</text>
<text x="50.75" y="690.20" font-size="7.6" fill="#fa2030" stroke="#fa2030" stroke-width="0.12" transform="translate(0,690.20) scale(1,1.06) translate(0,-690.20)">Persistent detection</text>
<text x="50.75" y="699.60" font-size="7.6" fill="#222" stroke="#222" stroke-width="0.12" transform="translate(0,699.60) scale(1,1.06) translate(0,-699.60)">vs. <tspan fill="#2aa5c9" stroke="#2aa5c9">never detected</tspan></text>
<text x="137.05" y="694.80" font-size="7.6" fill="#111" font-weight="bold" stroke="#111" stroke-width="0.12" transform="translate(0,694.80) scale(1,1.06) translate(0,-694.80)">3.32 (1.18–9.33), 0.023</text>
<text x="50.75" y="713.90" font-size="7.6" fill="#fa2030" stroke="#fa2030" stroke-width="0.12" transform="translate(0,713.90) scale(1,1.06) translate(0,-713.90)">Persistent detection</text>
<text x="50.75" y="723.30" font-size="7.6" fill="#222" stroke="#222" stroke-width="0.12" transform="translate(0,723.30) scale(1,1.06) translate(0,-723.30)">vs. <tspan fill="#8c8c8c" stroke="#8c8c8c">clearance</tspan></text>
<text x="137.05" y="718.50" font-size="7.6" fill="#111" stroke="#111" stroke-width="0.12" transform="translate(0,718.50) scale(1,1.06) translate(0,-718.50)">1.62 (0.95–2.75), 0.077</text>
<rect x="317.50" y="643.50" width="174.50" height="12.80" fill="#000" stroke="none" stroke-width="1"/>
<rect x="318.00" y="644.00" width="173.50" height="83.00" fill="none" stroke="#222" stroke-width="1"/>
<line x1="405.75" y1="656.30" x2="405.75" y2="727.50" stroke="#222" stroke-width="1.2"/>
<line x1="405.75" y1="644.50" x2="405.75" y2="656.30" stroke="#fff" stroke-width="1"/>
<line x1="317.50" y1="679.80" x2="492.00" y2="679.80" stroke="#222" stroke-width="1"/>
<line x1="317.50" y1="703.50" x2="492.00" y2="703.50" stroke="#222" stroke-width="1"/>
<text x="322.50" y="652.80" font-size="7.6" fill="#fff" font-weight="bold" stroke="#fff" stroke-width="0.12" transform="translate(0,652.80) scale(1,1.06) translate(0,-652.80)">Comparison</text>
<text x="408.55" y="652.80" font-size="7.6" fill="#fff" font-weight="bold" stroke="#fff" stroke-width="0.12" transform="translate(0,652.80) scale(1,1.06) translate(0,-652.80)">HR (95% CI), <tspan font-style="italic">P</tspan> value</text>
<text x="322.50" y="666.70" font-size="7.6" fill="#8c8c8c" stroke="#8c8c8c" stroke-width="0.12" transform="translate(0,666.70) scale(1,1.06) translate(0,-666.70)">Clearance</text>
<text x="322.50" y="676.10" font-size="7.6" fill="#222" stroke="#222" stroke-width="0.12" transform="translate(0,676.10) scale(1,1.06) translate(0,-676.10)">vs. <tspan fill="#2aa5c9" stroke="#2aa5c9">never detected</tspan></text>
<text x="408.55" y="671.30" font-size="7.6" fill="#111" font-weight="bold" stroke="#111" stroke-width="0.12" transform="translate(0,671.30) scale(1,1.06) translate(0,-671.30)">1.64 (1.08–2.51), 0.021</text>
<text x="322.50" y="690.20" font-size="7.6" fill="#fa2030" stroke="#fa2030" stroke-width="0.12" transform="translate(0,690.20) scale(1,1.06) translate(0,-690.20)">Persistent detection</text>
<text x="322.50" y="699.60" font-size="7.6" fill="#222" stroke="#222" stroke-width="0.12" transform="translate(0,699.60) scale(1,1.06) translate(0,-699.60)">vs. <tspan fill="#2aa5c9" stroke="#2aa5c9">never detected</tspan></text>
<text x="408.55" y="694.80" font-size="7.6" fill="#111" font-weight="bold" stroke="#111" stroke-width="0.12" transform="translate(0,694.80) scale(1,1.06) translate(0,-694.80)">2.28 (1.39–3.75), 0.001</text>
<text x="322.50" y="713.90" font-size="7.6" fill="#fa2030" stroke="#fa2030" stroke-width="0.12" transform="translate(0,713.90) scale(1,1.06) translate(0,-713.90)">Persistent detection</text>
<text x="322.50" y="723.30" font-size="7.6" fill="#222" stroke="#222" stroke-width="0.12" transform="translate(0,723.30) scale(1,1.06) translate(0,-723.30)">vs. <tspan fill="#8c8c8c" stroke="#8c8c8c">clearance</tspan></text>
<text x="408.55" y="718.50" font-size="7.6" fill="#111" stroke="#111" stroke-width="0.12" transform="translate(0,718.50) scale(1,1.06) translate(0,-718.50)">1.39 (0.99–1.94), 0.054</text>
</svg></body></html>
